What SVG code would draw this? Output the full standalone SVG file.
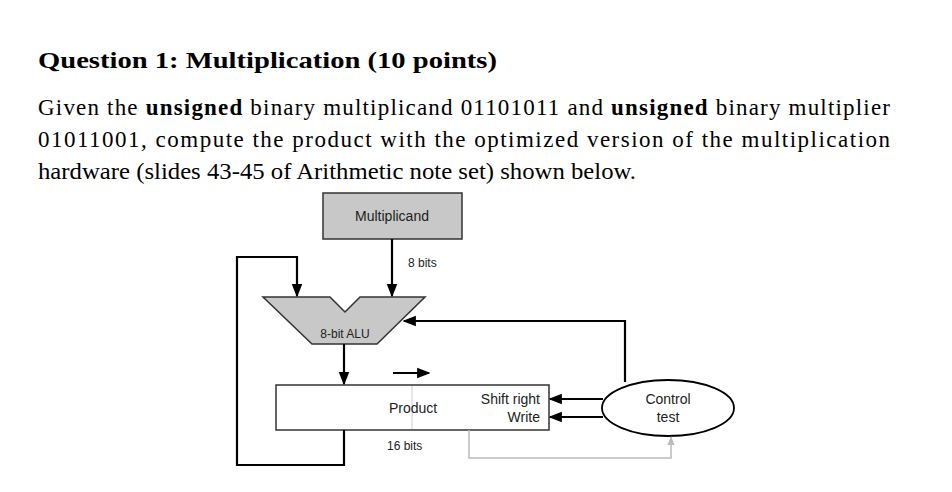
<svg xmlns="http://www.w3.org/2000/svg" width="952" height="492" viewBox="0 0 952 492">
<defs>
<marker id="ah" viewBox="0 0 10 10" refX="9" refY="5" markerWidth="6" markerHeight="6" orient="auto"><path d="M0,1 L10,5 L0,9 z" fill="#000"/></marker>
<marker id="ahg" viewBox="0 0 10 10" refX="9" refY="5" markerWidth="6" markerHeight="6" orient="auto"><path d="M0,1 L10,5 L0,9 z" fill="#bbb"/></marker>
</defs>
<style>
.t{font-family:"Liberation Serif",serif;font-size:23px;fill:#000}
.s{font-family:"Liberation Sans",Arial,sans-serif;font-size:14px;fill:#222}
.sm{font-family:"Liberation Sans",Arial,sans-serif;font-size:12px;fill:#222}
.w{fill:none;stroke:#000;stroke-width:2.2}
</style>
<rect width="952" height="492" fill="#fff"/>
<text class="t" x="38" y="68" font-weight="bold" font-size="27" textLength="459" lengthAdjust="spacingAndGlyphs">Question 1: Multiplication (10 points)</text>
<text class="t" x="38" y="115" textLength="852" lengthAdjust="spacing">Given the <tspan font-weight="bold">unsigned</tspan> binary multiplicand 01101011 and <tspan font-weight="bold">unsigned</tspan> binary multiplier</text>
<text class="t" x="38" y="147" textLength="852" lengthAdjust="spacing">01011001, compute the product with the optimized version of the multiplication</text>
<text class="t" x="38" y="179" textLength="598" lengthAdjust="spacingAndGlyphs">hardware (slides 43-45 of Arithmetic note set) shown below.</text>
<g id="multiplicand"><rect x="323" y="193" width="139" height="46" fill="#c8c8c8" stroke="#333" stroke-width="1.5"/><text class="s" x="392" y="221" text-anchor="middle">Multiplicand</text></g>
<g id="alu"><path d="M263,297 L330,297 L345,312 L360,297 L425,297 L377,344 L312,344 Z" fill="#c8c8c8" stroke="#333" stroke-width="1.5"/><text class="sm" x="345" y="338" text-anchor="middle">8-bit ALU</text></g>
<g id="product"><rect x="276" y="385" width="273" height="45" fill="#fff" stroke="#333" stroke-width="1.5"/><line x1="412" y1="386" x2="412" y2="429" stroke="#ccc"/><text class="s" x="413" y="413" text-anchor="middle">Product</text><text class="s" x="540" y="404" text-anchor="end">Shift right</text><text class="s" x="540" y="422" text-anchor="end">Write</text></g>
<g id="control"><ellipse cx="668" cy="408" rx="66" ry="28" fill="#fff" stroke="#000" stroke-width="1.8"/><text class="s" x="668" y="404" text-anchor="middle">Control</text><text class="s" x="668" y="422" text-anchor="middle">test</text></g>
<g id="labels"><text class="sm" x="408" y="267">8 bits</text><text class="sm" x="387" y="450">16 bits</text></g>
<g id="connectors">
<path class="w" d="M392,239 V296" marker-end="url(#ah)"/>
<path class="w" d="M344,430 V465 H237 V257 H297 V296" marker-end="url(#ah)"/>
<path class="w" d="M344,344 V384" marker-end="url(#ah)"/>
<path class="w" d="M393,373 H429" stroke-width="1.8" marker-end="url(#ah)"/>
<path class="w" d="M603,399 H550" stroke-width="1.8" marker-end="url(#ah)"/>
<path class="w" d="M603,417 H550" stroke-width="1.8" marker-end="url(#ah)"/>
<path class="w" d="M625,382 V321 H404" stroke-width="1.8" marker-end="url(#ah)"/>
<path d="M469,430 V458 H671 V437" fill="none" stroke="#bbb" stroke-width="1.5" marker-end="url(#ahg)"/>
</g>
</svg>
